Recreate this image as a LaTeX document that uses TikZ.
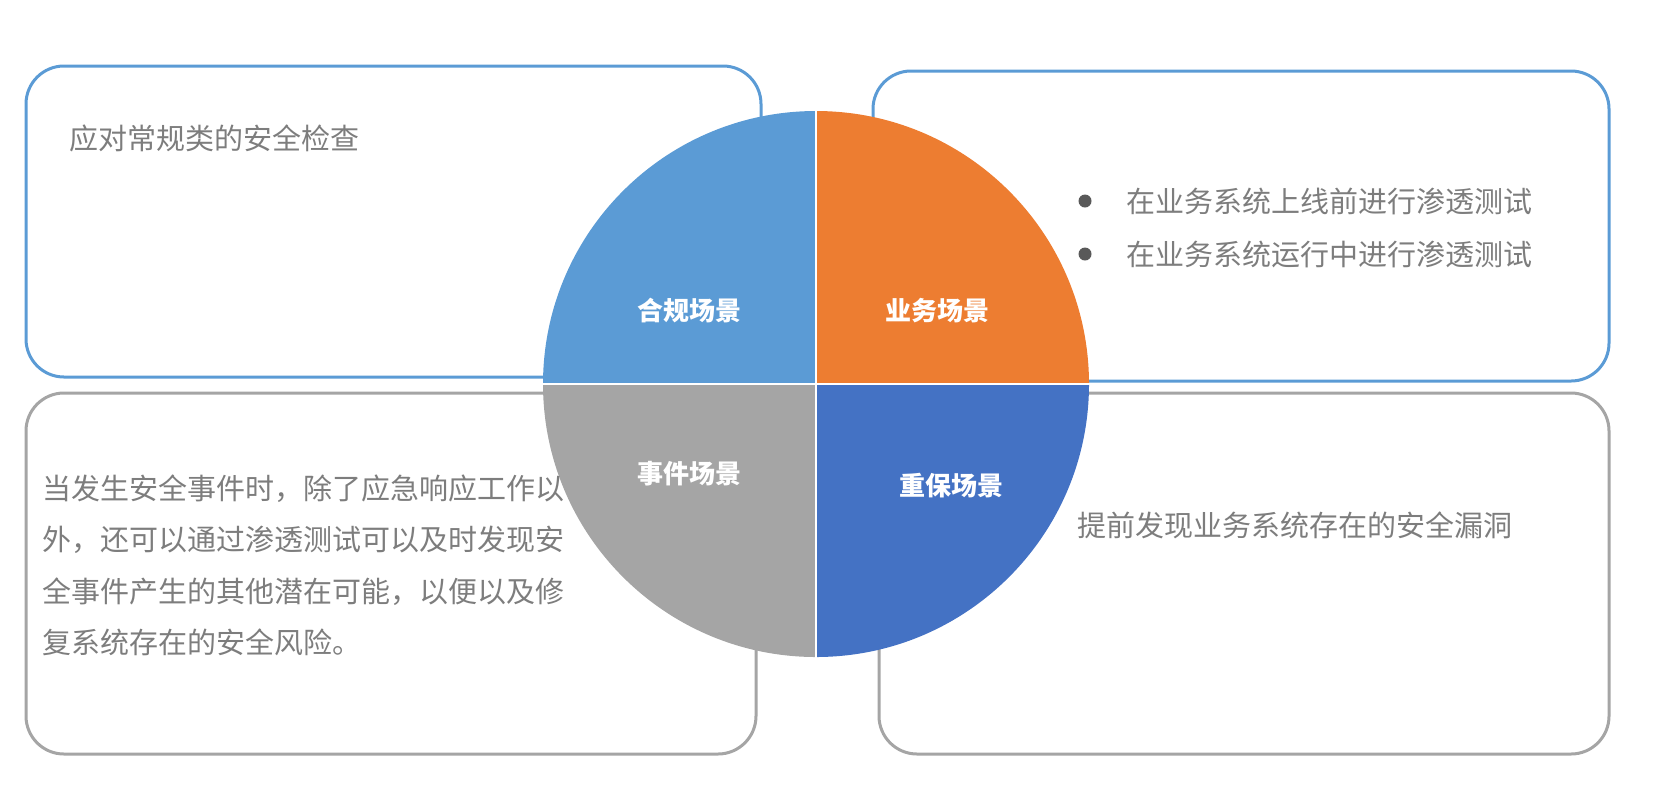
\documentclass[tikz,border=0pt]{standalone}
\usepackage{fontspec}
\setmainfont{Noto Sans CJK SC}
\usepackage{tikz}

\definecolor{qblue}{RGB}{91,155,213}
\definecolor{qorange}{RGB}{237,125,49}
\definecolor{qgray}{RGB}{165,165,165}
\definecolor{qdeep}{RGB}{68,114,196}
\definecolor{txtgray}{RGB}{125,125,125}
\definecolor{dotgray}{RGB}{89,89,89}

\begin{document}
\begin{tikzpicture}[x=0.5pt,y=0.5pt,yscale=-1,xscale=1,
  boxblue/.style={draw=qblue, line width=1.5pt, rounded corners=19pt},
  boxgray/.style={draw=qgray, line width=1.5pt, rounded corners=19pt},
  seclabel/.style={text=white, font=\fontsize{13}{15}\selectfont\bfseries, inner sep=0pt},
  bodytext/.style={text=txtgray, font=\fontsize{14.5}{25.8}\selectfont, inner sep=0pt, anchor=west, align=left}]
\useasboundingbox (0,0) rectangle (1663,800);

%Rounded Rect top left
\draw [boxblue] (26,66) rectangle (761,377) ;
%Rounded Rect top right
\draw [boxblue] (873,71) rectangle (1609,381) ;
%Rounded Rect bottom left
\draw [boxgray] (26,393) rectangle (756,754) ;
%Rounded Rect bottom right
\draw [boxgray] (879,393) rectangle (1609,754) ;

%Shape: Pie
\coordinate (pc) at (816,384) ;
\fill [qblue] (pc) -- ++(-273,0) arc [start angle=180, end angle=270, radius=273] -- cycle ;
\fill [qorange] (pc) -- ++(0,-273) arc [start angle=270, end angle=360, radius=273] -- cycle ;
\fill [qdeep] (pc) -- ++(273,0) arc [start angle=0, end angle=90, radius=273] -- cycle ;
\fill [qgray] (pc) -- ++(0,273) arc [start angle=90, end angle=180, radius=273] -- cycle ;
%Straight Lines
\draw [white, line width=1pt] (816,110) -- (816,658) ;
\draw [white, line width=1pt] (542,384) -- (1090,384) ;

% quadrant labels
\node [seclabel] (hegui) at (689,311) {合规场景};
\node [seclabel] (yewu) at (937,311) {业务场景};
\node [seclabel] (shijian) at (689,474) {事件场景};
\node [seclabel] (zhongbao) at (951,486) {重保场景};

% box texts
\node [bodytext] (txtcheck) at (69,138) {应对常规类的安全检查};
\fill [dotgray] (1085,201) circle [radius=6.5] ;
\fill [dotgray] (1085,254) circle [radius=6.5] ;
\node [bodytext] (txtonline) at (1126,201) {在业务系统上线前进行渗透测试};
\node [bodytext] (txtrun) at (1126,254) {在业务系统运行中进行渗透测试};
\node [bodytext, anchor=north west] (txtevent) at (42,474) {当发生安全事件时，除了应急响应工作以\\外，还可以通过渗透测试可以及时发现安\\全事件产生的其他潜在可能，以便以及修\\复系统存在的安全风险。};
\node [bodytext] (txtvuln) at (1077,525) {提前发现业务系统存在的安全漏洞};

\end{tikzpicture}
\end{document}
